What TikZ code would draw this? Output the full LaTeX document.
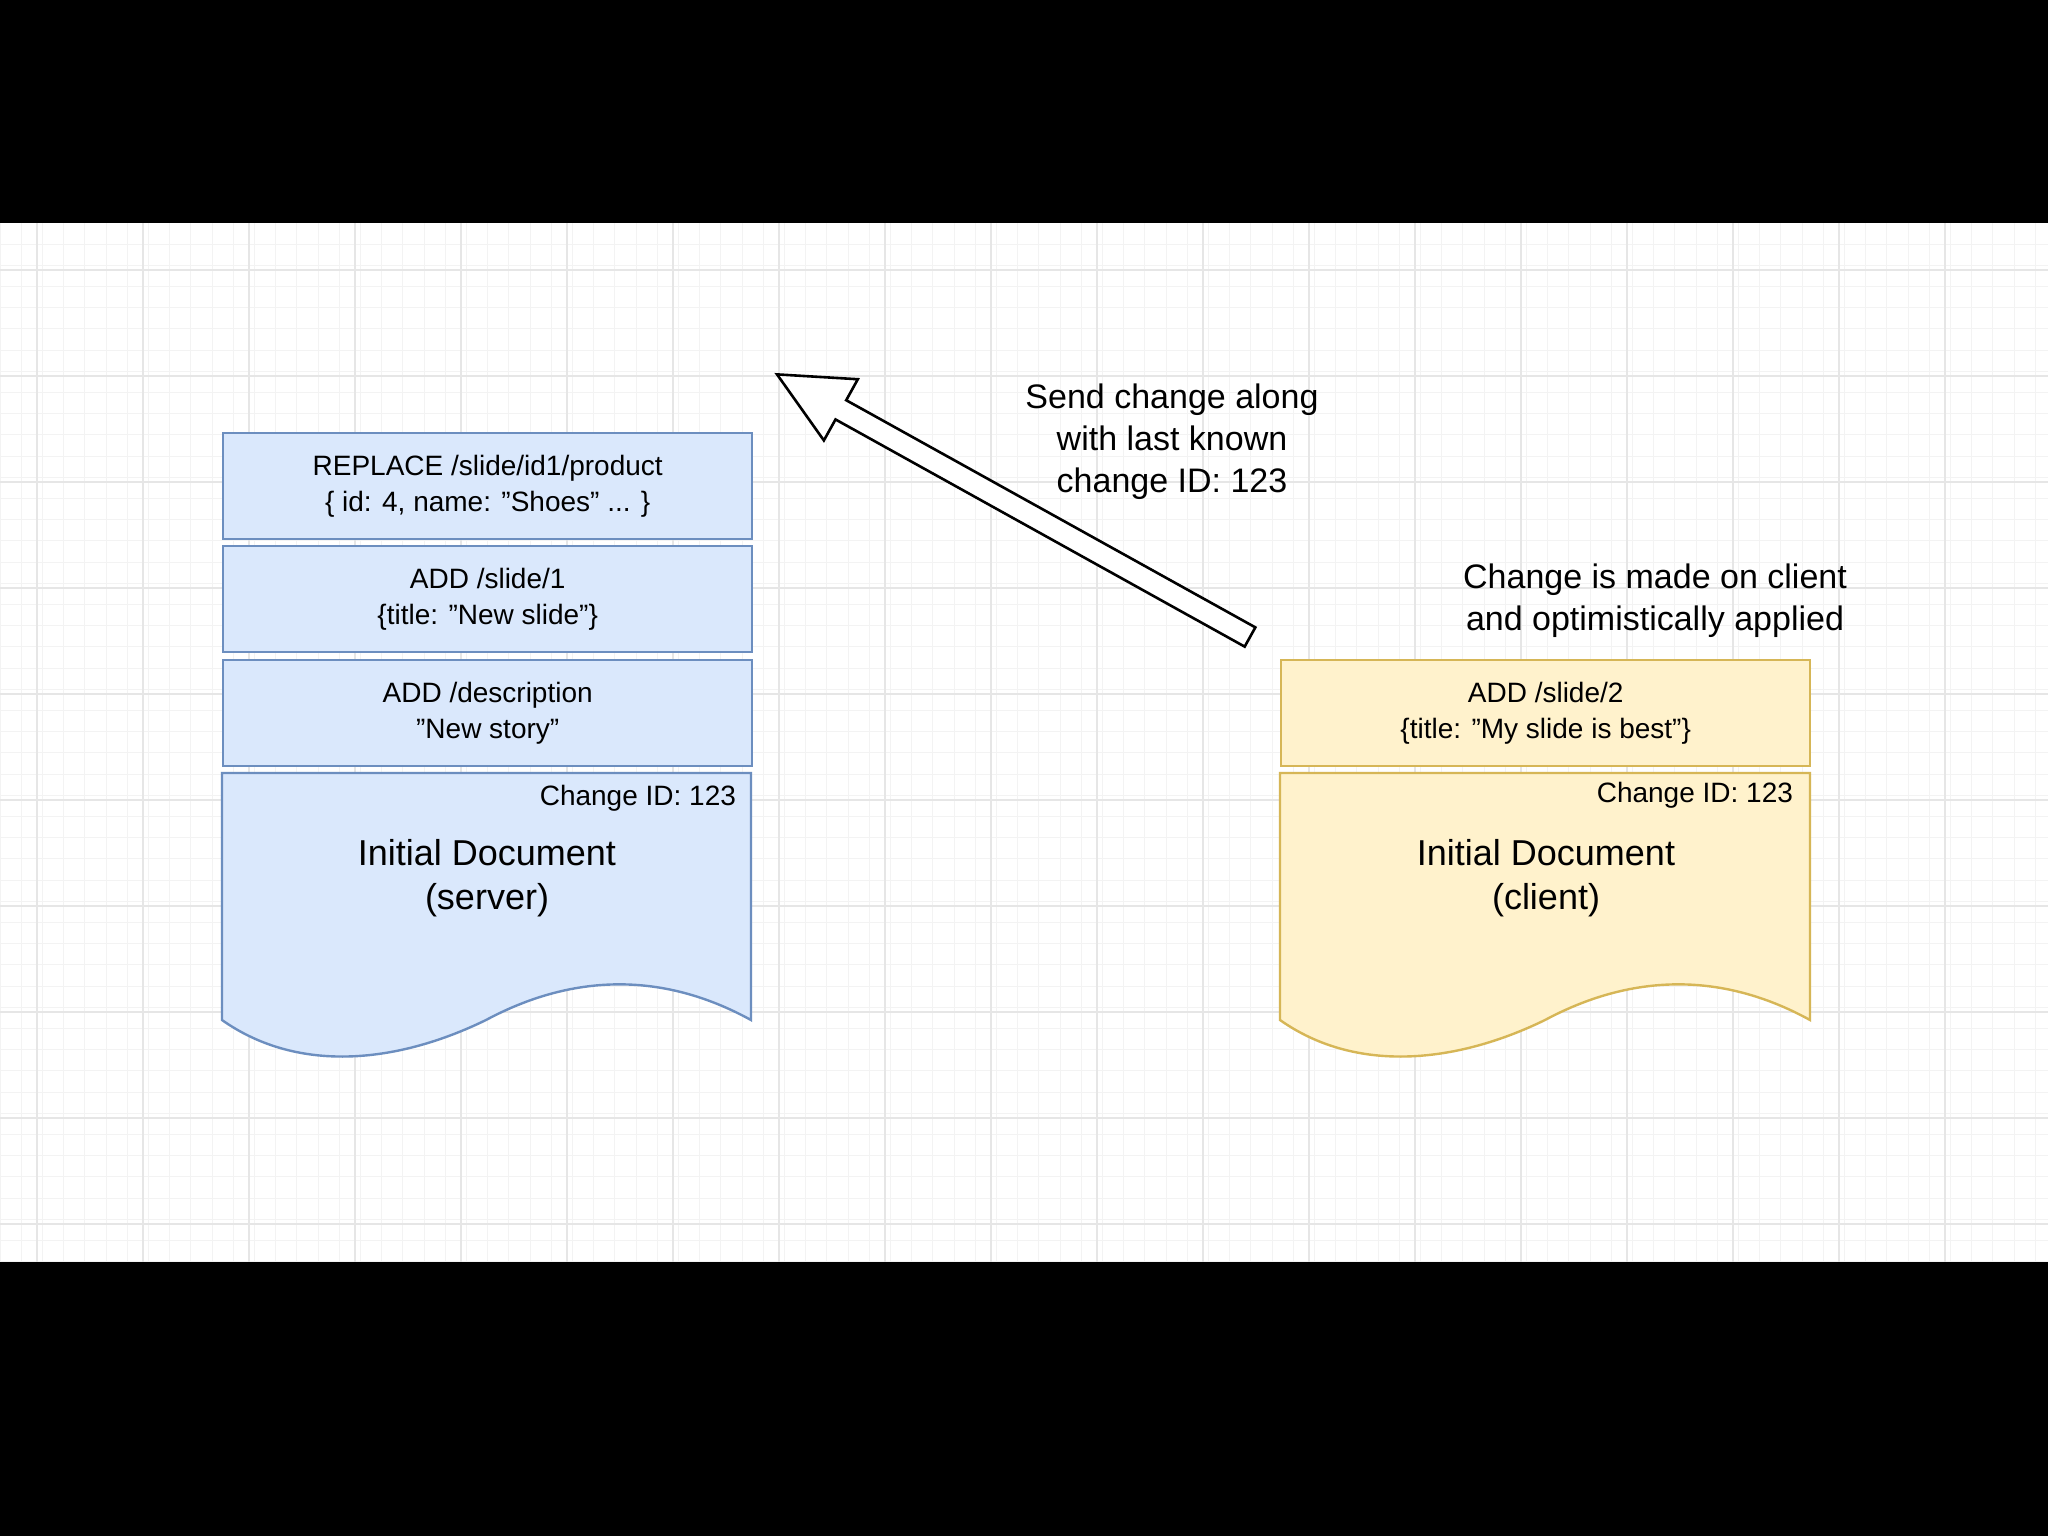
\documentclass[tikz,border=0pt]{standalone}
\usepackage{fontspec}
\setmainfont{Liberation Sans}
\definecolor{bfill}{HTML}{DAE8FC}\definecolor{bline}{HTML}{6C8EBF}
\definecolor{yfill}{HTML}{FFF2CC}\definecolor{yline}{HTML}{D6B656}
\definecolor{gridc}{HTML}{E6E6E6}
\begin{document}
\begin{tikzpicture}[x=0.5pt,y=-0.5pt,
 box/.style={draw=#1line,fill=#1fill,line width=1.2pt,minimum width=264.5pt,minimum height=53pt,inner sep=0pt,anchor=north west,align=center,font=\fontsize{14}{18}\selectfont},
 lab/.style={align=center,font=\fontsize{17}{21}\selectfont}]
\useasboundingbox (0,0) rectangle (2048,1536);
\fill[black] (0,0) rectangle (2048,1536);
\fill[white] (0,223) rectangle (2048,1262);
\foreach \x in {0,21.2,...,2048} \draw[gridc!50,line width=0.4pt] (\x,223) -- (\x,1262);
\foreach \y in {244,265.2,...,1262} \draw[gridc!50,line width=0.4pt] (0,\y) -- (2048,\y);
\foreach \x in {37,143,...,2048} \draw[gridc,line width=0.6pt] (\x,223) -- (\x,1262);
\foreach \y in {270,376,...,1262} \draw[gridc,line width=0.6pt] (0,\y) -- (2048,\y);
% server stack
\node[box=b] (b1) at (222,432) {REPLACE /slide/id1/product\\\{ id: 4, name: "Shoes" ... \}};
\node[box=b] (b2) at (222,545) {ADD /slide/1\\\{title: "New slide"\}};
\node[box=b] (b3) at (222,659) {ADD /description\\"New story"};
\draw[bline,fill=bfill,line width=1.2pt] (222,773) -- (751,773) -- (751,1020) .. controls (660,970) and (570,975) .. (486,1020) .. controls (400,1062) and (300,1075) .. (222,1020) -- cycle;
\node[anchor=north east,font=\fontsize{14}{18}\selectfont] (s1) at (743,778) {Change ID: 123};
\node[lab,font=\fontsize{18}{22}\selectfont] (s2) at (487,878) {Initial Document\\(server)};
% client stack
\node[box=y] (y1) at (1280,659) {ADD /slide/2\\\{title: "My slide is best"\}};
\draw[yline,fill=yfill,line width=1.2pt] (1280,773) -- (1810,773) -- (1810,1020) .. controls (1719,970) and (1629,975) .. (1545,1020) .. controls (1459,1062) and (1358,1075) .. (1280,1020) -- cycle;
\node[anchor=north east,font=\fontsize{14}{18}\selectfont] (c1) at (1800,775) {Change ID: 123};
\node[lab,font=\fontsize{18}{22}\selectfont] (c2) at (1546,878) {Initial Document\\(client)};
% arrow
\coordinate (tail) at (1250,637);
\coordinate (tip) at (778,375);
\begin{scope}[shift={(tail)},rotate=-29.04]
\draw[line width=1.3pt,fill=white] (0,11) -- (-468,11) -- (-468,35) -- (-541,0) -- (-468,-35) -- (-468,-11) -- (0,-11) -- cycle;
\end{scope}
\node[lab] (t1) at (1172,442) {Send change along\\with last known\\change ID: 123};
\node[lab] (t2) at (1655,601) {Change is made on client\\and optimistically applied};
\end{tikzpicture}
\end{document}
